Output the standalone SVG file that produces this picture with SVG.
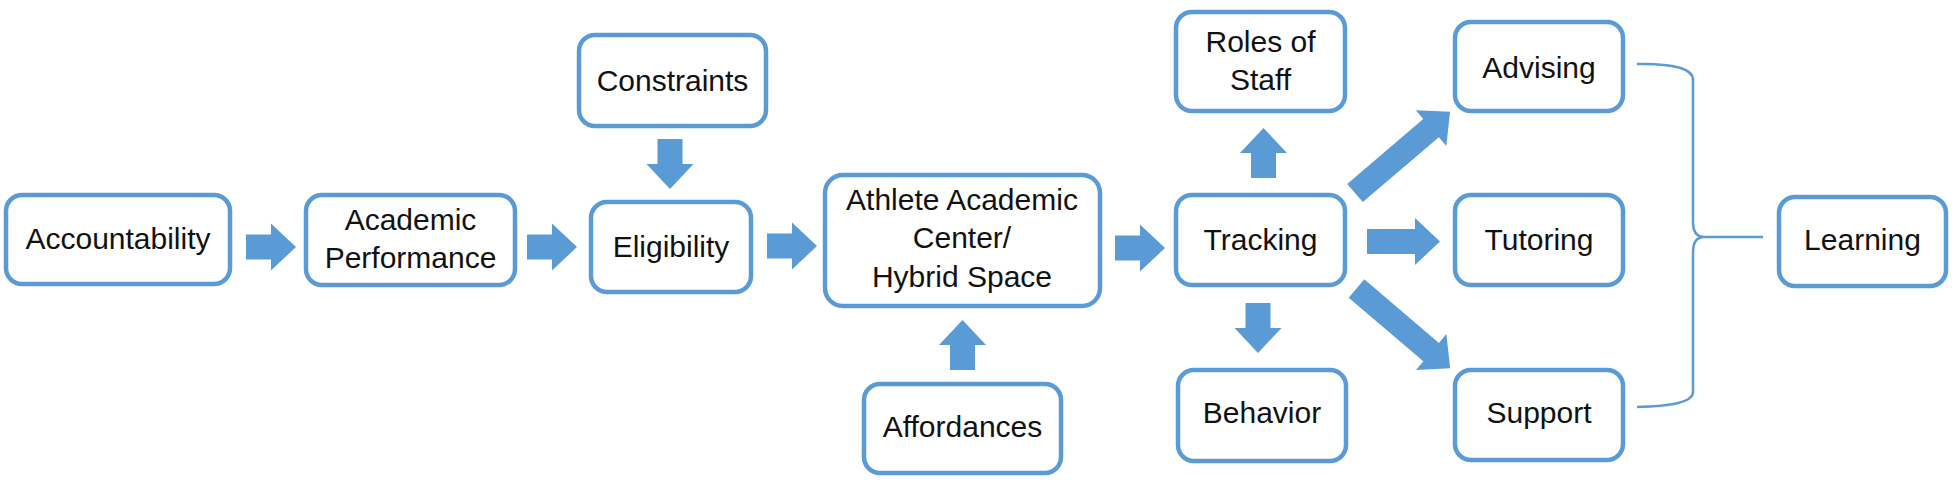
<svg xmlns="http://www.w3.org/2000/svg" xmlns:xlink="http://www.w3.org/1999/xlink" width="1959" height="488" viewBox="0 0 1959 488">
<style>
.box{fill:#fff;stroke:#5B9BD5;stroke-width:4.5}
.lbl{font-family:"Liberation Sans",Arial,sans-serif;font-size:30px;fill:#111;text-anchor:middle}
.arr{fill:#5B9BD5}
.brace{fill:none;stroke:#5B9BD5;stroke-width:2.5}
</style>
<defs>
<path id="a50" d="M0,-12.5 H25 V-23.5 L50,0 L25,23.5 V12.5 H0 Z"/>
</defs>
<rect width="1959" height="488" fill="#fff"/>
<g id="connectors">
<use xlink:href="#a50" class="arr" transform="translate(246,247)"/>
<use xlink:href="#a50" class="arr" transform="translate(527,247)"/>
<use xlink:href="#a50" class="arr" transform="translate(767,246)"/>
<use xlink:href="#a50" class="arr" transform="translate(670,139) rotate(90)"/>
<use xlink:href="#a50" class="arr" transform="translate(962.5,370) rotate(-90)"/>
<use xlink:href="#a50" class="arr" transform="translate(1115,248)"/>
<use xlink:href="#a50" class="arr" transform="translate(1263.5,178) rotate(-90)"/>
<use xlink:href="#a50" class="arr" transform="translate(1258,303) rotate(90)"/>
<path class="arr" d="M0,-12.5 H48 V-23.5 L73,0 L48,23.5 V12.5 H0 Z" transform="translate(1367,241.5)"/>
<path class="arr" d="M0,-12 H100 V-23.5 L125,0 L100,23.5 V12 H0 Z" transform="translate(1355,193) rotate(-40.5)"/>
<path class="arr" d="M0,-12 H98 V-23.5 L123,0 L98,23.5 V12 H0 Z" transform="translate(1356.5,288.5) rotate(40.4)"/>
<path class="brace" d="M1637,64 Q1693,63 1693,80 V222 Q1693,236 1703,237 Q1693,238 1693,252 V392 Q1693,406 1637,407 M1703,237 H1763"/>
</g>
<g id="accountability">
<rect class="box" x="6" y="195" width="224" height="89" rx="16"/>
<text class="lbl" x="118" y="249">Accountability</text>
</g>
<g id="academic-performance">
<rect class="box" x="306" y="195" width="209" height="90" rx="16"/>
<text class="lbl" x="410.5" y="230">Academic</text>
<text class="lbl" x="410.5" y="268">Performance</text>
</g>
<g id="constraints">
<rect class="box" x="579" y="35" width="187" height="91" rx="16"/>
<text class="lbl" x="672.5" y="91">Constraints</text>
</g>
<g id="eligibility">
<rect class="box" x="591" y="202" width="160" height="90" rx="16"/>
<text class="lbl" x="671" y="257">Eligibility</text>
</g>
<g id="athlete-academic-center">
<rect class="box" x="825" y="175" width="275" height="131" rx="18"/>
<text class="lbl" x="962" y="210">Athlete Academic</text>
<text class="lbl" x="962" y="248">Center/</text>
<text class="lbl" x="962" y="287">Hybrid Space</text>
</g>
<g id="affordances">
<rect class="box" x="864" y="384" width="197" height="89" rx="16"/>
<text class="lbl" x="962.5" y="437">Affordances</text>
</g>
<g id="roles-of-staff">
<rect class="box" x="1176" y="12" width="169" height="99" rx="16"/>
<text class="lbl" x="1260.5" y="52">Roles of</text>
<text class="lbl" x="1260.5" y="90">Staff</text>
</g>
<g id="tracking">
<rect class="box" x="1176" y="195" width="169" height="90" rx="16"/>
<text class="lbl" x="1260.5" y="250">Tracking</text>
</g>
<g id="behavior">
<rect class="box" x="1178" y="370" width="168" height="91" rx="16"/>
<text class="lbl" x="1262" y="423">Behavior</text>
</g>
<g id="advising">
<rect class="box" x="1455" y="22" width="168" height="89" rx="16"/>
<text class="lbl" x="1539" y="78">Advising</text>
</g>
<g id="tutoring">
<rect class="box" x="1455" y="195" width="168" height="90" rx="16"/>
<text class="lbl" x="1539" y="250">Tutoring</text>
</g>
<g id="support">
<rect class="box" x="1455" y="370" width="168" height="90" rx="16"/>
<text class="lbl" x="1539" y="423">Support</text>
</g>
<g id="learning">
<rect class="box" x="1779" y="197" width="167" height="89" rx="16"/>
<text class="lbl" x="1862.5" y="250">Learning</text>
</g>
</svg>
